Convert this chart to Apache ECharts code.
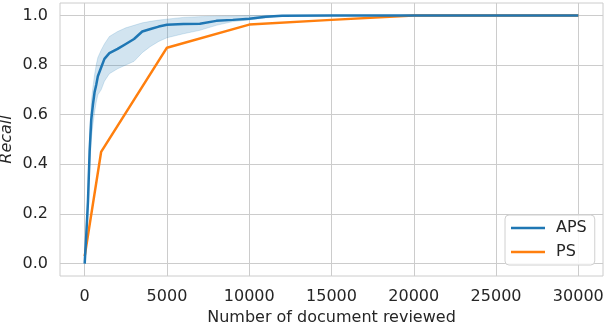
<!DOCTYPE html>
<html>
<head>
<meta charset="utf-8">
<script src="https://cdn.jsdelivr.net/npm/echarts@6/dist/echarts.min.js"></script>
<style>html,body{margin:0;padding:0;background:#fff}#c{width:606px;height:323px}</style>
</head>
<body>
<div id="c"></div>
<script>
// APS: mean recall with confidence band
const apsX     = [0, 100, 200, 300, 400, 500, 600, 700, 800, 1000, 1200, 1500, 2000, 2500, 3000, 3500, 4000, 4500, 5000, 6000, 7000, 8000, 9000, 10000, 11000, 12000, 15000, 20000, 25000, 30000];
const apsMean  = [0, 0.12, 0.25, 0.45, 0.58, 0.64, 0.69, 0.72, 0.755, 0.79, 0.825, 0.848, 0.865, 0.885, 0.905, 0.935, 0.945, 0.955, 0.962, 0.965, 0.966, 0.978, 0.982, 0.987, 0.995, 0.999, 1, 1, 1, 1];
const apsLower = [0, 0.09, 0.20, 0.38, 0.50, 0.56, 0.61, 0.65, 0.68, 0.70, 0.735, 0.765, 0.785, 0.80, 0.815, 0.85, 0.875, 0.895, 0.91, 0.926, 0.94, 0.96, 0.975, 0.982, 0.99, 0.997, 1, 1, 1, 1];
const apsUpper = [0, 0.15, 0.30, 0.52, 0.65, 0.71, 0.76, 0.80, 0.83, 0.86, 0.885, 0.915, 0.935, 0.95, 0.96, 0.97, 0.976, 0.981, 0.985, 0.992, 0.995, 0.997, 0.998, 0.999, 1, 1, 1, 1, 1, 1];
// PS
const psX = [0, 1000, 5000, 10000, 15000, 20000, 25000, 30000];
const psY = [0.03, 0.45, 0.87, 0.963, 0.982, 1.0, 1.0, 1.0];
// ticks
const xTicks = [0, 5000, 10000, 15000, 20000, 25000, 30000];
const yTicks = [0, 0.2, 0.4, 0.6, 0.8, 1.0];
const xTitle = 'Number of document reviewed';
const yTitle = 'Recall';

const zip = (xs, ys) => xs.map((x, i) => [x, ys[i]]);
const font = 'DejaVu Sans';
const txt = '#262626';
const bandData = apsX.map((x, i) => [x, apsLower[i], apsUpper[i]]);

const chart = echarts.init(document.getElementById('c'), null, {renderer: 'canvas'});
chart.setOption({
  animation: false,
  backgroundColor: '#ffffff',
  grid: {left: 60, right: 3, top: 3, bottom: 47, show: true, borderColor: '#cccccc', borderWidth: 1,
    containLabel: false, outerBoundsMode: 'none'},
  xAxis: {
    type: 'value', min: -1500, max: 31500,
    name: xTitle, nameLocation: 'middle', nameGap: 34, nameMoveOverlap: false,
    nameTextStyle: {fontFamily: font, fontSize: 16, color: txt},
    axisLine: {show: false},
    axisTick: {show: false, customValues: xTicks},
    axisLabel: {customValues: xTicks, fontFamily: font, fontSize: 16, color: txt, margin: 13,
      formatter: v => String(v)},
    splitLine: {show: true, lineStyle: {color: '#cccccc', width: 1}}
  },
  yAxis: {
    type: 'value', min: -0.05, max: 1.05,
    name: yTitle, nameLocation: 'middle', nameGap: 45, nameRotate: 90, nameMoveOverlap: false,
    nameTextStyle: {fontFamily: font, fontSize: 16, color: txt, fontStyle: 'italic'},
    axisLine: {show: false},
    axisTick: {show: false, customValues: yTicks},
    axisLabel: {customValues: yTicks, fontFamily: font, fontSize: 16, color: txt, margin: 12,
      formatter: v => v.toFixed(1)},
    splitLine: {show: true, lineStyle: {color: '#cccccc', width: 1}}
  },
  legend: {
    data: ['APS', 'PS'],
    orient: 'vertical', left: 505, top: 215,
    icon: 'rect', itemWidth: 34, itemHeight: 2.5, itemGap: 8,
    backgroundColor: 'rgba(255,255,255,0.85)', borderColor: '#d0d0d0', borderWidth: 1, borderRadius: 4,
    padding: [5, 8, 5, 6],
    textStyle: {fontFamily: font, fontSize: 16, color: txt, padding: [0, 0, 0, 6]}
  },
  series: [
    {
      name: 'APS_band', type: 'custom', silent: true, z: 1,
      data: bandData,
      encode: {x: 0, y: [1, 2]},
      renderItem: function (params, api) {
        if (params.dataIndex !== 0) return null;
        const up = [], lo = [];
        for (let i = 0; i < bandData.length; i++) {
          up.push(api.coord([bandData[i][0], bandData[i][2]]));
          lo.push(api.coord([bandData[i][0], bandData[i][1]]));
        }
        const pts = up.concat(lo.reverse());
        return {
          type: 'polygon',
          shape: {points: pts},
          style: {fill: 'rgba(31,119,180,0.2)', stroke: 'rgba(31,119,180,0.22)', lineWidth: 0.8}
        };
      }
    },
    {
      name: 'PS', type: 'line', data: zip(psX, psY), symbol: 'none', z: 3,
      itemStyle: {color: '#ff7f0e'},
      lineStyle: {color: '#ff7f0e', width: 2.5}
    },
    {
      name: 'APS', type: 'line', data: zip(apsX, apsMean), symbol: 'none', z: 4,
      itemStyle: {color: '#1f77b4'},
      lineStyle: {color: '#1f77b4', width: 2.5}
    }
  ]
});
</script>
</body>
</html>
